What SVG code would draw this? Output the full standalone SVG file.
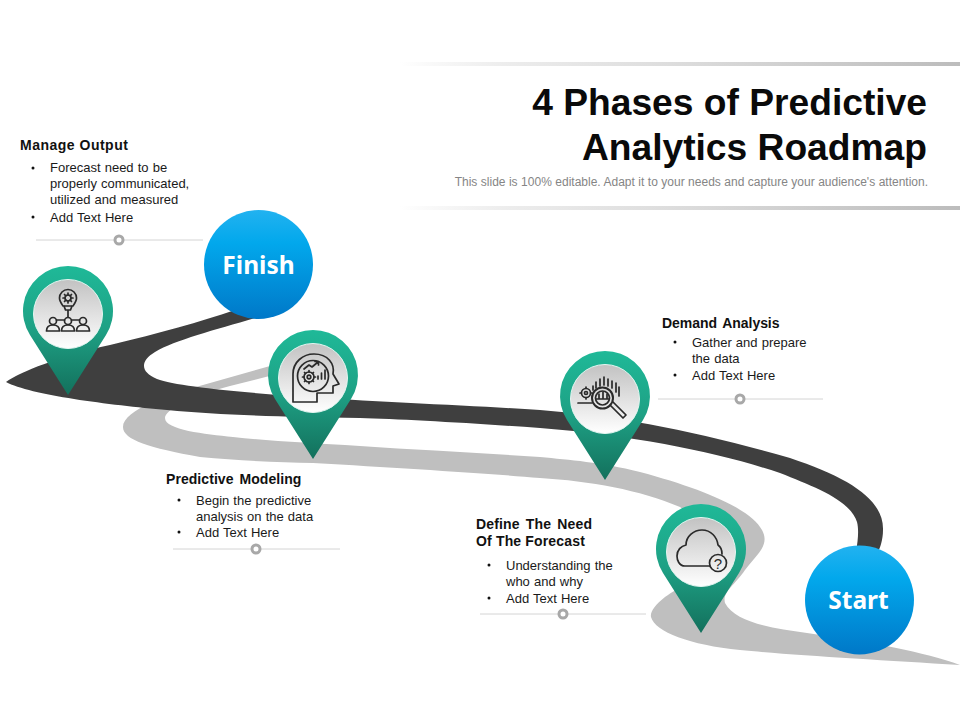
<svg xmlns="http://www.w3.org/2000/svg" xmlns:xlink="http://www.w3.org/1999/xlink" width="960" height="720" viewBox="0 0 960 720">
<style>
.title{font:bold 37.200px "Liberation Sans",Arial,sans-serif;fill:#0a0a0a;text-anchor:end}
.sub{font:12px "Liberation Sans",Arial,sans-serif;fill:#858585;text-anchor:end}
.head{font:bold 14px "Liberation Sans",Arial,sans-serif;fill:#111;letter-spacing:.5px}
.body{font:13px "Liberation Sans",Arial,sans-serif;fill:#1a1a1a;word-spacing:.5px}
.ball{font:bold 24.500px "Noto Sans","Liberation Sans",sans-serif;fill:#fff;text-anchor:middle}
.ic{fill:none;stroke:#2a2a2a;stroke-width:1.700;stroke-linejoin:round;stroke-linecap:round}
.div{stroke:#d4d4d4;stroke-width:1}
.dot{fill:#fff;stroke:#a8a8a8;stroke-width:3}
.bul{fill:#111}
</style>
<defs>
<linearGradient id="bar" x1="0" x2="1" y1="0" y2="0"><stop offset="0" stop-color="#e8e8e8" stop-opacity="0"/><stop offset="0.2" stop-color="#ececec"/><stop offset="0.5" stop-color="#dcdcdc"/><stop offset="1" stop-color="#bcbcbc"/></linearGradient>
<linearGradient id="teal" x1="0" x2="0" y1="0" y2="1"><stop offset="0" stop-color="#1fb998"/><stop offset="0.5" stop-color="#1ea084"/><stop offset="1" stop-color="#13705c"/></linearGradient>
<linearGradient id="disc" x1="0" x2="0" y1="0" y2="1"><stop offset="0" stop-color="#c2c2c2"/><stop offset="1" stop-color="#ffffff"/></linearGradient>
<linearGradient id="blue" x1="0" x2="0" y1="0" y2="1"><stop offset="0" stop-color="#22b2f0"/><stop offset="0.3" stop-color="#02a8ec"/><stop offset="1" stop-color="#0078c8"/></linearGradient>
<g id="pin">
<path d="M-38 24.1A45 45 0 1 1 38 24.1L0 84Z" fill="url(#teal)" transform="translate(0,45)"/>
<circle cx="0" cy="48" r="34.500" fill="url(#disc)" stroke="#e4f6f1" stroke-width="1"/>
</g>
<g id="mark"><circle r="4" class="dot"/></g>
</defs>
<rect width="960" height="720" fill="#fff"/>
<rect x="400" y="62" width="560" height="4" fill="url(#bar)"/>
<rect x="400" y="206" width="560" height="4" fill="url(#bar)"/>
<text class="title" x="927" y="115">4 Phases of Predictive</text>
<text class="title" x="927" y="160">Analytics Roadmap</text>
<text class="sub" x="928" y="186" style="word-spacing:.15px">This slide is 100% editable. Adapt it to your needs and capture your audience's attention.</text>

<g id="connectors">
<path id="road-light" fill="#bfbfbf" d="M960 665C925 652 870 642 807 633C770 628 735 622 725 603C722 592 735 585 745 570C758 553 770 545 762 530C750 508 700 488 640 472C600 462 570 460 540 457C480 453 420 450 360 446C310 443 270 441 233 437C205 434 165 430 165 418C165 410 190 396 230 386L285 372L285 360L270 366L203 385C170 394 123 410 123 427C123 440 150 448 200 457C240 461 280 462 313 463C400 468 480 473 540 478C590 481 640 490 680 507C700 520 705 555 690 578C680 588 672 592 665 597C655 605 650 612 651 617C655 632 690 645 740 650C790 655 880 660 960 665Z"/>
<path id="road-dark" fill="#3f3f3f" d="M6 382C20 372 60 356 110 345C160 333 200 322 235 310L255 318C215 330 175 340 155 352C140 361 140 372 157 379C175 386 230 391 290 396C380 402 480 406 540 410C620 416 700 432 790 458C850 478 884 500 883 530C883 540 880 548 878 552L856 552C858 540 859 530 857 522C850 500 815 487 780 473C720 453 640 436 540 428C470 423 400 419 360 418C280 417 220 415 167 410C110 405 30 395 6 382Z"/>
<line class="div" x1="36" y1="240" x2="203" y2="240"/><use xlink:href="#mark" href="#mark" x="119" y="240"/>
<line class="div" x1="658" y1="399" x2="823" y2="399"/><use xlink:href="#mark" href="#mark" x="740" y="399"/>
<line class="div" x1="173" y1="549" x2="340" y2="549"/><use xlink:href="#mark" href="#mark" x="256" y="549"/>
<line class="div" x1="480" y1="614" x2="646" y2="614"/><use xlink:href="#mark" href="#mark" x="563" y="614"/>
</g>

<g id="finish"><circle cx="258.500" cy="264.500" r="54.500" fill="url(#blue)"/><text class="ball" x="258.500" y="274">Finish</text></g>
<g id="start"><circle cx="859.500" cy="600" r="54.500" fill="url(#blue)"/><text class="ball" x="858.500" y="609">Start</text></g>

<g id="pin-manage"><use xlink:href="#pin" href="#pin" x="68" y="266"/>
<g class="ic"><path d="M63 306C61 303 59.500 301 59.500 298A8.500 8.500 0 0 1 76.500 298C76.500 301 75 303 73 306ZM64 306L65.500 310H70.500L72 306M68 310V317"/><circle cx="68" cy="298" r="3"/><path d="M68 293V295M68 301V303M63 298H65M71 298H73M64.500 294.500L65.800 295.800M71.500 294.500L70.200 295.800M64.500 301.500L65.800 300.200M71.500 301.500L70.200 300.200"/>
<circle cx="53" cy="321" r="3.500"/><circle cx="68" cy="321" r="3.500"/><circle cx="83" cy="321" r="3.500"/><path d="M56.500 320H64.500M71.500 320H79.500M46.500 331C46.500 326 50 325 53 325C56 325 59.500 326 59.500 331ZM61.500 331C61.500 326 65 325 68 325C71 325 74.500 326 74.500 331ZM76.500 331C76.500 326 80 325 83 325C86 325 89.500 326 89.500 331Z"/></g>
<text class="head" x="20" y="150">Manage Output</text>
<circle class="bul" cx="33" cy="168" r="1.500"/><text class="body" x="50" y="172">Forecast need to be</text><text class="body" x="50" y="188">properly communicated,</text><text class="body" x="50" y="204">utilized and measured</text>
<circle class="bul" cx="33" cy="217" r="1.500"/><text class="body" x="50" y="222">Add Text Here</text></g>

<g id="pin-modeling"><use xlink:href="#pin" href="#pin" x="313" y="330"/>
<g class="ic"><path d="M293 402V374C293 362 303 354 314 354C328 354 335 364 333 374L339 384L333 386V393H317V402Z"/><circle cx="313" cy="376" r="15.500"/><circle cx="309" cy="377" r="5"/><circle cx="309" cy="377" r="1.800"/><path d="M309 370.500V372M309 382V383.500M302.500 377H304M314 377H315.500M304.500 372.500L305.500 373.500M313.500 372.500L312.500 373.500M304.500 381.500L305.500 380.500M313.500 381.500L312.500 380.500M304 369L309 365L312 367L318 362M315 361.500H318.500V365M318 379V376M321.500 379V373M325 379V370"/></g>
<text class="head" x="166" y="484" style="word-spacing:2px;letter-spacing:.06px">Predictive Modeling</text>
<circle class="bul" cx="179" cy="500" r="1.500"/><text class="body" x="196" y="505">Begin the predictive</text><text class="body" x="196" y="521">analysis on the data</text>
<circle class="bul" cx="179" cy="532" r="1.500"/><text class="body" x="196" y="537">Add Text Here</text></g>

<g id="pin-demand"><use xlink:href="#pin" href="#pin" x="605" y="351"/>
<g class="ic"><path d="M578 403H592M593 390V386M596 388V382M600 386V379M604 385V377M608 386V379M612 388V381M616 392V383M619 396V387"/><circle cx="586" cy="393" r="4.500"/><circle cx="586" cy="393" r="1.500"/><path d="M586 387V388M586 398V399M580 393H581M591 393H592M610 405L623 418L626 415L613 402"/><circle cx="602.500" cy="398" r="10.500" stroke-width="2"/><circle cx="602.500" cy="398" r="7"/><path d="M596 399H609M599 399V394M603 399V392M607 399V394"/></g>
<text class="head" x="662" y="328" style="word-spacing:2px;letter-spacing:-.05px">Demand Analysis</text>
<circle class="bul" cx="675" cy="342" r="1.500"/><text class="body" x="692" y="347">Gather and prepare</text><text class="body" x="692" y="363">the data</text>
<circle class="bul" cx="675" cy="375" r="1.500"/><text class="body" x="692" y="380">Add Text Here</text></g>

<g id="pin-define"><use xlink:href="#pin" href="#pin" x="701" y="504"/>
<g class="ic"><path d="M710 566H685C679 566 677 560 677 556C677 550 681 546 686 545C686 536 694 530 702 530C711 530 717 537 718 545C721 547 722 550 722 554"/><circle cx="718" cy="563" r="8.500"/></g>
<text x="718" y="568.500" font-family="Liberation Sans,sans-serif" font-size="15" fill="#2a2a2a" text-anchor="middle">?</text>
<text class="head" x="476" y="529" style="word-spacing:2px;letter-spacing:.16px">Define The Need</text><text class="head" x="476" y="546" style="letter-spacing:.16px">Of The Forecast</text>
<circle class="bul" cx="489" cy="565" r="1.500"/><text class="body" x="506" y="570">Understanding the</text><text class="body" x="506" y="586">who and why</text>
<circle class="bul" cx="489" cy="598" r="1.500"/><text class="body" x="506" y="603">Add Text Here</text></g>
</svg>
